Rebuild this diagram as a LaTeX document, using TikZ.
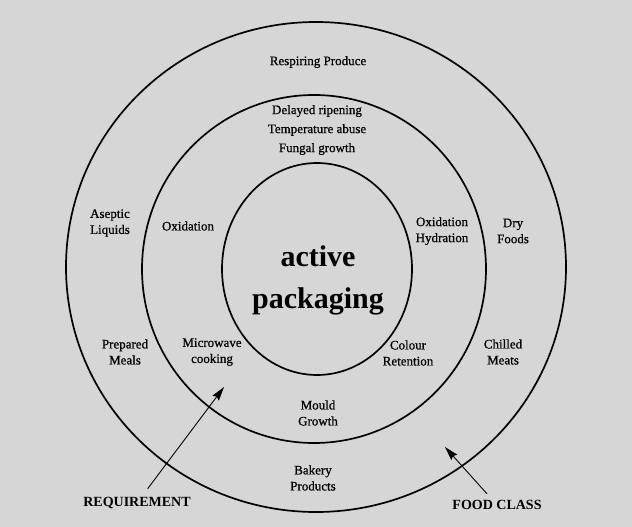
\documentclass[tikz,border=0pt]{standalone}
\usepackage{fontspec}
\setmainfont{Liberation Serif}
\newfontface\heavyface{Liberation Serif}[FakeBold=0.7]
\usepackage{xcolor}
\usetikzlibrary{arrows.meta,positioning}
\definecolor{scangray}{RGB}{214,214,214}

\begin{document}
\begin{tikzpicture}[
    x=1pt, y=-1pt,
    ring/.style={draw=black, line width=1.7pt},
    ringtext/.style={align=center, font=\heavyface\fontsize{13}{16}\selectfont, inner sep=1pt},
    hub/.style={align=center, font=\fontsize{30}{42}\selectfont\bfseries},
    tag/.style={font=\fontsize{14}{16}\selectfont\bfseries, inner sep=1pt},
    pointer/.style={-{Stealth[length=14pt,width=8pt,inset=2pt]}, line width=0.9pt}
  ]

    % Page background (scanned grey)
    \fill[scangray] (0,0) rectangle (632,527);
    \useasboundingbox (0,0) rectangle (632,527);

    % Rings: food class (outer), requirement (middle), core
    \draw[ring] (316,267) ellipse (250 and 245);
    \draw[ring] (314,269) ellipse (172 and 174);
    \draw[ring] (317,269) ellipse (95 and 106);

    % Core
    \node[hub] (core) at (318,280) {active\\packaging};

    % Outer ring: food classes
    \node[ringtext] (respiring) at (318,62) {Respiring Produce};
    \node[ringtext] (aseptic) at (110,223) {Aseptic\\Liquids};
    \node[ringtext] (dry) at (513,231) {Dry\\Foods};
    \node[ringtext] (prepared) at (125,352) {Prepared\\Meals};
    \node[ringtext] (chilled) at (503,352) {Chilled\\Meats};
    \node[ringtext] (bakery) at (313,478) {Bakery\\Products};

    % Middle ring: requirements
    \node[ringtext, font=\heavyface\fontsize{13}{19}\selectfont] (ripening) at (317,130)
      {Delayed ripening\\Temperature abuse\\Fungal growth};
    \node[ringtext] (oxid) at (188,226) {Oxidation};
    \node[ringtext] (hydr) at (442,231) {Oxidation\\Hydration};
    \node[ringtext] (micro) at (212,352) {Microwave\\cooking};
    \node[ringtext] (colour) at (408,353) {Colour\\Retention};
    \node[ringtext] (mould) at (318,413) {Mould\\Growth};

    % Ring captions with pointers
    \node[tag] (req) at (137,503) {REQUIREMENT};
    \node[tag] (food) at (497,505) {FOOD CLASS};
    \coordinate (reqtip) at (224,387);
    \coordinate (foodtip) at (445,447);
    \draw[pointer, shorten <=9pt] (req) -- (reqtip);
    \draw[pointer, shorten <=7pt] (food) -- (foodtip);

  \end{tikzpicture}
\end{document}
